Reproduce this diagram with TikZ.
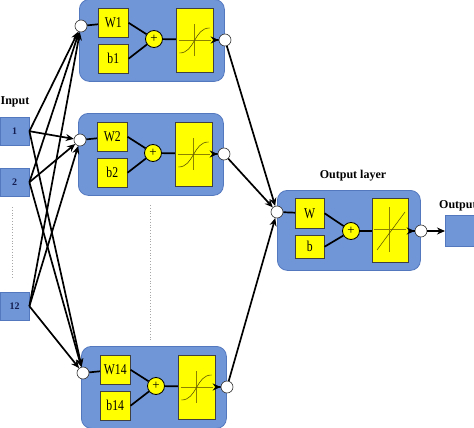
\documentclass[tikz,border=0pt]{standalone}
\usepackage{fontspec}
\usepackage{graphicx}
\setmainfont{Liberation Serif}
\usetikzlibrary{arrows.meta}
\definecolor{blk}{RGB}{112,150,216}
\definecolor{blkedge}{RGB}{84,120,190}
\definecolor{ylw}{RGB}{255,255,0}
\definecolor{axisc}{RGB}{140,130,0}
\definecolor{navy}{RGB}{20,30,80}
\tikzset{
  block/.style={draw=blkedge, fill=blk, rounded corners=10pt, line width=0.8pt, inner sep=0pt},
  ybox/.style={draw=black!75, fill=ylw, line width=0.5pt, inner sep=0pt},
  port/.style={circle, draw=black!80, fill=white, minimum size=12pt, inner sep=0pt, line width=0.6pt},
  sumnode/.style={circle, draw=black, fill=ylw, minimum size=17pt, inner sep=0pt, line width=0.8pt, font=\fontsize{13}{13}\selectfont},
  inbox/.style={fill=blk, draw=blkedge, line width=0.4pt, inner sep=0pt, minimum width=29pt, minimum height=28pt, anchor=north west, font=\fontsize{10}{10}\selectfont\bfseries\color{navy}},
  wtext/.style={font=\fontsize{15}{15}\selectfont},
  conn/.style={line width=1.7pt, black},
  arr/.style={conn, -{Stealth[length=8pt,width=7pt]}},
  axisline/.style={axisc, line width=0.5pt},
  curveline/.style={axisc!70!black, line width=0.6pt},
  dots/.style={gray!70, dotted, line width=0.8pt},
  head/.style={font=\fontsize{12}{12}\selectfont\bfseries},
}
\newcommand\narrow[1]{\scalebox{0.78}[1]{#1}}
% hidden block: #1 prefix, #2 W label, #3 b label
\newcommand\hblock[3]{%
  \node[block, minimum width=145pt, minimum height=82pt, anchor=north west] (#1box) at (0,0) {};
  \node[ybox, wtext, minimum width=30pt, minimum height=29pt, anchor=north west] (#1W) at (19,9) {\narrow{#2}};
  \node[ybox, wtext, minimum width=30pt, minimum height=29pt, anchor=north west] (#1b) at (19,45) {\narrow{#3}};
  \node[sumnode] (#1sum) at (75,40) {+};
  \node[port] (#1in) at (2,27) {};
  \node[port] (#1out) at (146,41) {};
  \draw[conn] (#1in) -- (#1W);
  \draw[conn] (#1W.east) -- (#1sum);
  \draw[conn] (#1b.east) -- (#1sum);
  \draw[conn] (#1sum) -- (#1out);
  \node[ybox, minimum width=37pt, minimum height=64pt, anchor=north west] (#1sig) at (97,9) {};
  \draw[arr] (#1sig.east |- #1out) -- (#1out);
  \draw[axisline] (99.5,41) -- (131.5,41);
  \draw[axisline] (115.5,25) -- (115.5,57);
  \draw[curveline] (100.5,54) .. controls (116,54) and (115,29) .. (130.5,29);
}
\begin{document}
\begin{tikzpicture}[x=1pt,y=-1pt]
\useasboundingbox (0,0) rectangle (474,428);

% inputs
\node[head] (inlabel) at (15,102) {Input};
\node[inbox] (i1) at (0,117) {1};
\node[inbox] (i2) at (0,168) {2};
\node[inbox] (i12) at (0,292) {12};
\draw[dots] (12,207) -- (12,278);

% hidden blocks
\begin{scope}[shift={(79,-1)}]\hblock{h1}{W1}{b1}\end{scope}
\begin{scope}[shift={(78,113)}]\hblock{h2}{W2}{b2}\end{scope}
\begin{scope}[shift={(81,346)}]\hblock{h3}{W14}{b14}\end{scope}
\draw[dots] (150,205) -- (150,342);

% output block
\node[block, minimum width=143pt, minimum height=80pt, anchor=north west] (obox) at (277,190) {};
\node[head] (olabel) at (353,176) {Output layer};
\node[ybox, wtext, minimum width=29pt, minimum height=30pt, anchor=north west] (oW) at (295,198) {\narrow{W}};
\node[ybox, wtext, minimum width=29pt, minimum height=23pt, anchor=north west] (ob) at (295,235) {\narrow{b}};
\node[sumnode] (osum) at (351,231) {+};
\node[port] (oin) at (277,212) {};
\node[port] (oout) at (421,231) {};
\draw[conn] (oin) -- (oW);
\draw[conn] (oW.east) -- (osum);
\draw[conn] (ob.east) -- (osum);
\draw[conn] (osum) -- (oout);
\node[ybox, minimum width=36pt, minimum height=64pt, anchor=north west] (olin) at (372,198) {};
\draw[arr] (olin.east |- oout) -- (oout);
\draw[axisline] (374,229) -- (406,229);
\draw[axisline] (389,207) -- (389,252);
\draw[curveline] (377,250) -- (405,212);

% final output
\node[fill=blk, draw=blkedge, line width=0.4pt, minimum width=40pt, minimum height=31pt, anchor=north west] (orect) at (445,215) {};
\node[head, anchor=west, inner sep=0pt] (outlabel) at (439,206) {Output};
\draw[arr] (oout) -- (oout -| orect.west);

% connections input -> hidden
\foreach \i in {i1,i2,i12}
  \foreach \h in {h1,h2,h3}
    \draw[arr] (\i.east) -- (\h in);
% hidden -> output
\foreach \h in {h1,h2,h3}
  \draw[arr] (\h out) -- (oin);
\end{tikzpicture}
\end{document}
